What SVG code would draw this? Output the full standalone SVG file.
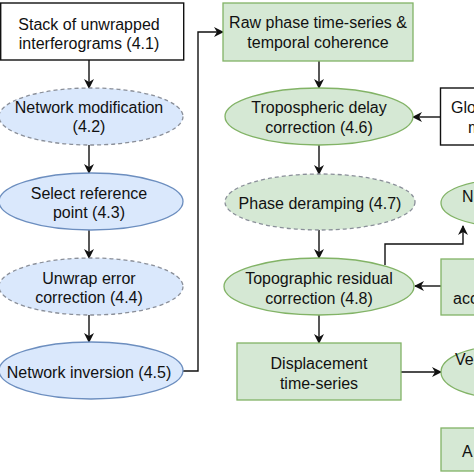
<svg xmlns="http://www.w3.org/2000/svg" width="474" height="474" viewBox="0 0 474 474">
<defs>
<style>
text{font-family:"Liberation Sans",Arial,sans-serif;font-size:16px;fill:#111;text-anchor:middle}
.s{text-anchor:start}
.w{fill:#fff;stroke:#111;stroke-width:1.4}
.b{fill:#dae8fc;stroke:#6c8ebf;stroke-width:1.3}
.g{fill:#d5e8d4;stroke:#82b366;stroke-width:1.3}
.d{stroke:#8a8f99;stroke-dasharray:4 3}
.e{fill:none;stroke:#111;stroke-width:1.4;marker-end:url(#ah)}
</style>
<marker id="ah" viewBox="0 0 10 10" refX="9" refY="5" markerWidth="10" markerHeight="10" markerUnits="userSpaceOnUse" orient="auto">
<path d="M0,0 L10,5 L0,10 L3,5 z" fill="#111"/>
</marker>
</defs>
<rect width="474" height="474" fill="#fff"/>
<g id="connectors">
<path class="e" d="M89,60 V88"/>
<path class="e" d="M89,145 V173"/>
<path class="e" d="M89,230 V258"/>
<path class="e" d="M89,315 V342"/>
<path class="e" d="M183,371 H198 V32 H223"/>
<path class="e" d="M319,61 V88"/>
<path class="e" d="M319,145 V174"/>
<path class="e" d="M319,230 V258"/>
<path class="e" d="M319,315 V343"/>
<path class="e" d="M440,117 H413"/>
<path class="e" d="M385,265 V244 H463 V226"/>
<path class="e" d="M441,286 H415"/>
<path class="e" d="M401,372 H441"/>
</g>
<g id="n41"><rect class="w" x="0.7" y="3" width="183" height="57"/><text x="89" y="30">Stack of unwrapped</text><text x="89" y="49">interferograms (4.1)</text></g>
<g id="n42"><ellipse class="b d" cx="91" cy="116.5" rx="92" ry="28.5"/><text x="89" y="113">Network modification</text><text x="89" y="132">(4.2)</text></g>
<g id="n43"><ellipse class="b" cx="91" cy="201.5" rx="92" ry="28.5"/><text x="89" y="199">Select reference</text><text x="89" y="218">point (4.3)</text></g>
<g id="n44"><ellipse class="b d" cx="91" cy="286.5" rx="92" ry="28.5"/><text x="89" y="284">Unwrap error</text><text x="89" y="303">correction (4.4)</text></g>
<g id="n45"><ellipse class="b" cx="91" cy="370.5" rx="92" ry="28.5"/><text x="89" y="377.5">Network inversion (4.5)</text></g>
<g id="raw"><rect class="g" x="223" y="3" width="190" height="58"/><text x="318" y="28">Raw phase time-series &amp;</text><text x="318" y="48">temporal coherence</text></g>
<g id="n46"><ellipse class="g" cx="319" cy="116.5" rx="94" ry="28.5"/><text x="319" y="113">Tropospheric delay</text><text x="319" y="133">correction (4.6)</text></g>
<g id="n47"><ellipse class="g d" cx="320" cy="202" rx="95" ry="28"/><text x="320" y="209">Phase deramping (4.7)</text></g>
<g id="n48"><ellipse class="g" cx="319" cy="286.5" rx="95" ry="28.5"/><text x="319" y="284">Topographic residual</text><text x="319" y="304">correction (4.8)</text></g>
<g id="disp"><rect class="g" x="237" y="343" width="164" height="57"/><text x="319" y="369">Displacement</text><text x="319" y="389">time-series</text></g>
<g id="glo"><rect class="w" x="440.5" y="88" width="60" height="57"/><text class="s" x="451" y="113">Glo</text><text class="s" x="468" y="133">m</text></g>
<g id="noise"><ellipse class="g" cx="501" cy="203" rx="60" ry="23"/><text class="s" x="462" y="201.5">N</text></g>
<g id="acc"><rect class="g" x="441" y="259" width="60" height="56"/><text class="s" x="453" y="304">acc</text></g>
<g id="vel"><ellipse class="g" cx="502" cy="372" rx="61" ry="26"/><text class="s" x="455" y="365">Ve</text></g>
<g id="aux"><rect class="g" x="441" y="428" width="60" height="43"/><text class="s" x="462" y="457">A</text></g>
</svg>
